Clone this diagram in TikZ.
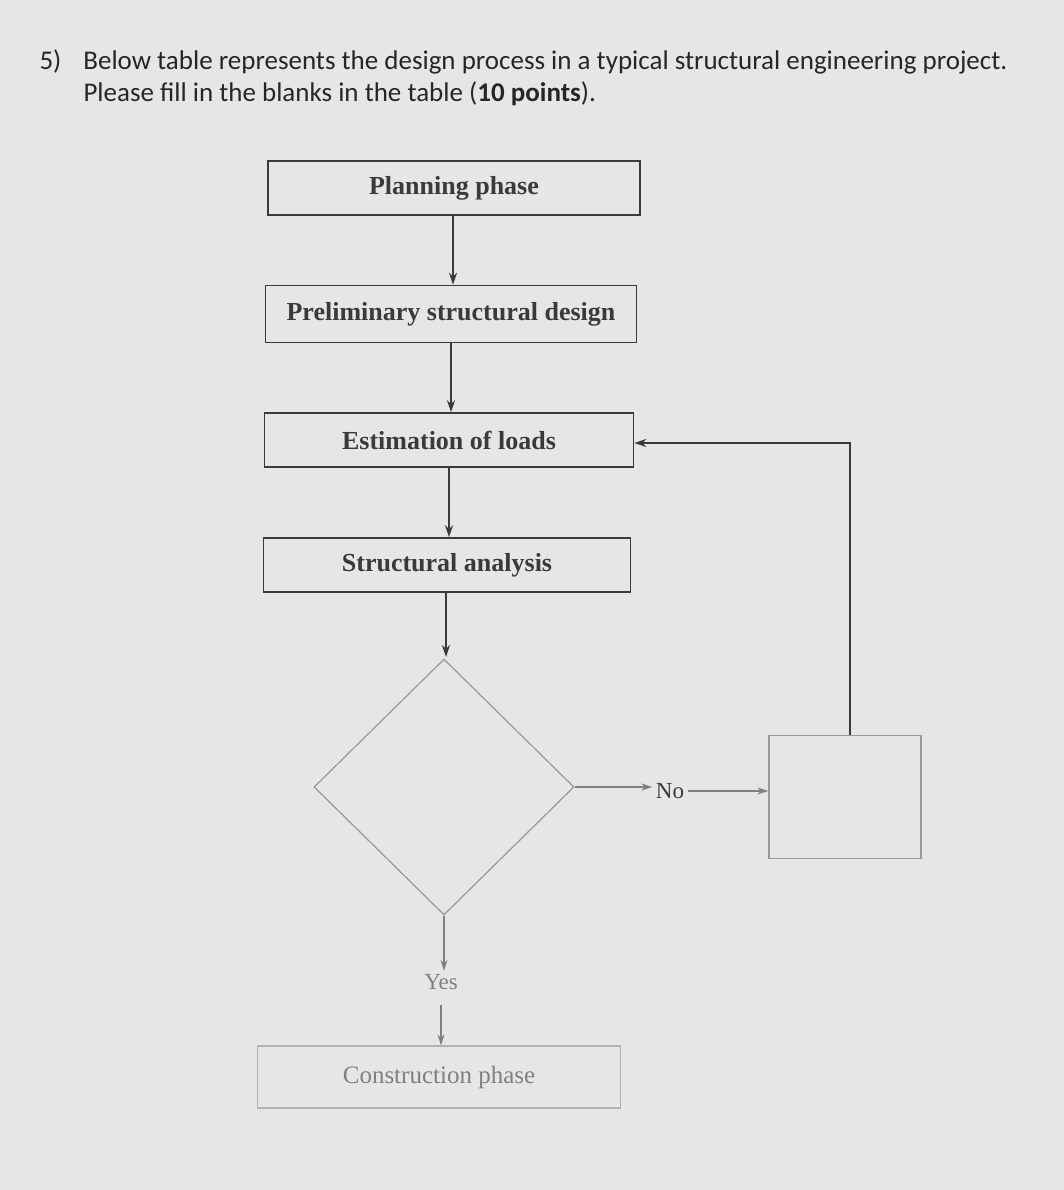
\documentclass[tikz,border=0pt]{standalone}
\usepackage{fontspec}
\setmainfont{Liberation Serif}
\newfontfamily\hdfont{Carlito}
\usetikzlibrary{arrows.meta,shapes.geometric}
\definecolor{bg}{HTML}{E6E6E6}
\definecolor{ln}{HTML}{3A3A3A}
\begin{document}
\begin{tikzpicture}[x=1pt,y=-1pt,
  box/.style={draw=ln,line width=1.6pt,minimum height=54pt,inner sep=0pt,font=\fontsize{26}{28}\selectfont\bfseries,text=ln},
  lbox/.style={draw=gray!60,line width=1.2pt,minimum height=62pt,inner sep=0pt,font=\fontsize{25}{28}\selectfont,text=gray},
  arr/.style={draw=ln,line width=1.8pt,-{Stealth[length=12pt,width=8pt]}},
  larr/.style={draw=gray,line width=1.3pt,-{Stealth[length=11pt,width=7pt]}}]
\fill[bg] (0,0) rectangle (1064,1190);
\useasboundingbox (0,0) rectangle (1064,1190);
\node[anchor=west,font=\hdfont\fontsize{27}{30}\selectfont,text=black!85] (h1) at (36,62) {5)\hspace{22pt}Below table represents the design process in a typical structural engineering project.};
\node[anchor=west,font=\hdfont\fontsize{27}{30}\selectfont,text=black!85] (h2) at (80,94) {Please fill in the blanks in the table (\textbf{10 points}).};
\node[box,minimum width=372pt] (p) at (454,188) {Planning phase};
\node[box,minimum width=371pt,minimum height=57pt] (pr) at (451,314) {Preliminary structural design};
\node[box,minimum width=369pt] (e) at (449,440) {Estimation of loads};
\node[box,minimum width=367pt] (s) at (447,565) {Structural analysis};
\node[diamond,draw=gray!80,line width=1.2pt,minimum width=260pt,minimum height=256pt,inner sep=0pt] (d) at (444,787) {};
\node[draw=gray!80,line width=1.2pt,minimum width=152pt,minimum height=123pt,inner sep=0pt] (r) at (845,797) {};
\node[lbox,minimum width=363pt] (c) at (439,1077) {Construction phase};
\node[font=\fontsize{23}{25}\selectfont,text=ln] (no) at (670,791) {No};
\node[font=\fontsize{23}{25}\selectfont,text=gray] (yes) at (441,982) {Yes};
\draw[arr] (p.south -| 453,0) -- (pr.north -| 453,0);
\draw[arr] (pr.south -| 451,0) -- (e.north -| 451,0);
\draw[arr] (e.south -| 449,0) -- (s.north -| 449,0);
\draw[arr] (446,592) -- (446,657);
\draw[arr] (r.north -| 850,0) -- (850,443) -- (e.east |- 0,443);
\draw[larr] (d.east) -- (d.east -| no.west);
\draw[larr] (no.east) -- (r.west |- no.east);
\draw[larr] (d.south) -- (yes.north -| d.south);
\draw[larr] (yes.south) ++(0,12) -- (c.north -| yes.south);
\end{tikzpicture}
\end{document}
